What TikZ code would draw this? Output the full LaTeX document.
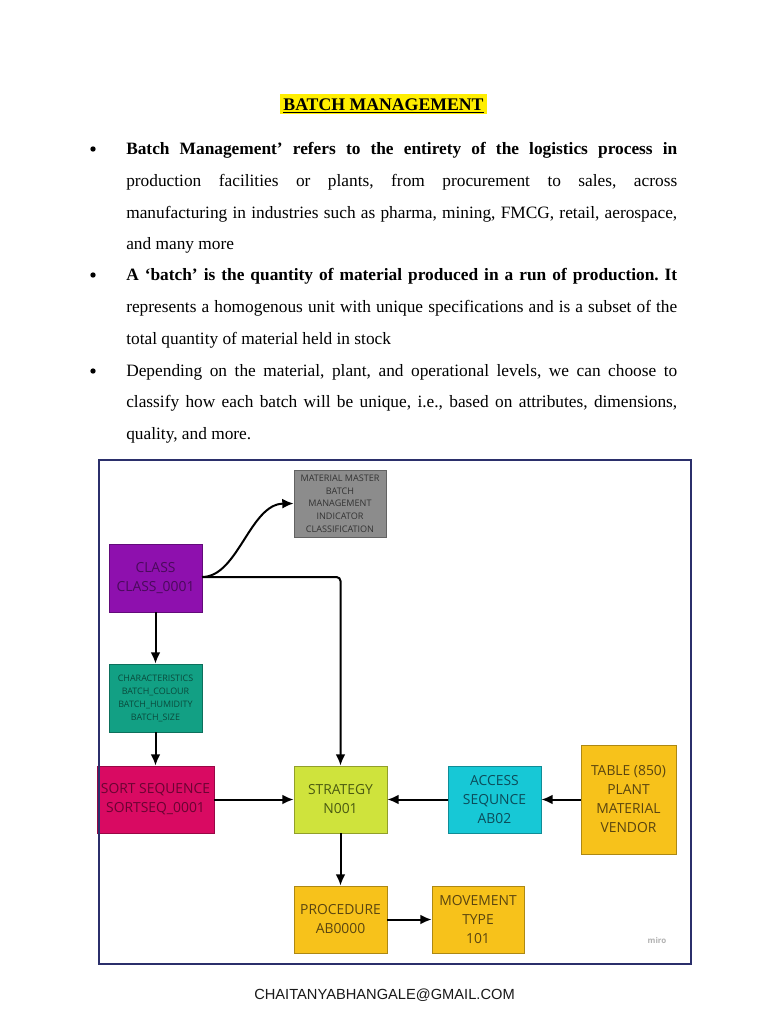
\documentclass[tikz,border=0pt]{standalone}
\usepackage{fontspec}
\setmainfont{Liberation Serif}
\newfontfamily\boxfont{Open Sans}
\newfontfamily\mailfont{Liberation Sans}
\usetikzlibrary{arrows.meta}
\frenchspacing
\definecolor{cPurple}{HTML}{8E10AE}
\definecolor{cPurpleT}{HTML}{4A0A5C}
\definecolor{cGray}{HTML}{8C8C8C}
\definecolor{cGrayT}{HTML}{333333}
\definecolor{cTeal}{HTML}{12A084}
\definecolor{cTealT}{HTML}{0A4A3C}
\definecolor{cMag}{HTML}{D90A62}
\definecolor{cMagT}{HTML}{6A0432}
\definecolor{cLime}{HTML}{CFE33C}
\definecolor{cLimeT}{HTML}{4A5A12}
\definecolor{cCyan}{HTML}{17C8D6}
\definecolor{cCyanT}{HTML}{0B4C5A}
\definecolor{cOrange}{HTML}{F7C21B}
\definecolor{cOrangeT}{HTML}{5A4510}
\definecolor{cFrame}{HTML}{2B2F6B}
\definecolor{cHigh}{HTML}{FFEE00}
\begin{document}
\begin{tikzpicture}[x=0.75pt,y=-0.75pt,
  bx/.style n args={4}{fill=#1, draw=#1!70!black, line width=0.6pt, text=#2,
     minimum width=#3*0.75pt, minimum height=#4*0.75pt, inner sep=1pt, align=center},
  bigtxt/.style={font=\boxfont\fontsize{10.4pt}{14.25pt}\selectfont},
  smalltxt/.style={font=\boxfont\fontsize{6.7pt}{9.75pt}\selectfont},
  arr/.style={-{Latex[length=8.5pt,width=7.5pt]}, line width=1.5pt, black},
  line/.style={anchor=base west, inner sep=0pt, font=\fontsize{13pt}{15pt}\selectfont},
  bul/.style={circle, fill=black, inner sep=0pt, minimum size=4pt}
]
\useasboundingbox (0,0) rectangle (768,1024);
\fill[white] (0,0) rectangle (768,1024);

% title
\fill[cHigh] (280,94) rectangle (487,114);
\node[anchor=base, inner sep=0pt, font=\bfseries\fontsize{13.3pt}{15pt}\selectfont] (title) at (383.5,110) {BATCH MANAGEMENT};
\draw[line width=1pt] (title.base west) ++(0,2.8) coordinate (u1) -- (title.base east |- u1);

% bullets
\node[bul] (b1) at (93,149) {};
\node[bul] (b2) at (93,275) {};
\node[bul] (b3) at (93,371) {};

\node[line] (l1) at (126,154) {\makebox[413.25pt][s]{\bfseries Batch Management’ refers to the entirety of the logistics process in}};
\node[line] (l2) at (126,186) {\makebox[413.25pt][s]{production facilities or plants, from procurement to sales, across}};
\node[line] (l3) at (126,218) {\makebox[413.25pt][s]{manufacturing in industries such as pharma, mining, FMCG, retail, aerospace,}};
\node[line] (l4) at (126,249) {and many more};
\node[line] (l5) at (126,280) {\makebox[413.25pt][s]{\bfseries A ‘batch’ is the quantity of material produced in a run of production. It}};
\node[line] (l6) at (126,312) {\makebox[413.25pt][s]{represents a homogenous unit with unique specifications and is a subset of the}};
\node[line] (l7) at (126,344) {total quantity of material held in stock};
\node[line] (l8) at (126,376) {\makebox[413.25pt][s]{Depending on the material, plant, and operational levels, we can choose to}};
\node[line] (l9) at (126,407) {\makebox[413.25pt][s]{classify how each batch will be unique, i.e., based on attributes, dimensions,}};
\node[line] (l10) at (126,439) {quality, and more.};

% diagram background
\fill[white] (99,460) rectangle (691,964);

% boxes
\node[bx={cGray}{cGrayT}{92}{67}, font=\boxfont\fontsize{6.8pt}{9.5pt}\selectfont] (mm) at (340,503.5)
  {MATERIAL MASTER\\BATCH\\MANAGEMENT\\INDICATOR\\CLASSIFICATION};
\node[bx={cPurple}{cPurpleT}{93}{68}, bigtxt] (class) at (155.5,578) {CLASS\\CLASS\_0001};
\node[bx={cTeal}{cTealT}{93}{68}, smalltxt] (char) at (155.5,698)
  {CHARACTERISTICS\\BATCH\_COLOUR\\BATCH\_HUMIDITY\\BATCH\_SIZE};
\node[bx={cMag}{cMagT}{117}{67}, bigtxt] (sort) at (155.5,799.5) {SORT SEQUENCE\\SORTSEQ\_0001};
\node[bx={cLime}{cLimeT}{93}{67}, bigtxt] (strat) at (340.5,799.5) {STRATEGY\\N001};
\node[bx={cCyan}{cCyanT}{93}{67}, bigtxt] (acc) at (494.5,799.5) {ACCESS\\SEQUNCE\\AB02};
\node[bx={cOrange}{cOrangeT}{95}{109}, bigtxt] (table) at (628.5,799.5) {TABLE (850)\\PLANT\\MATERIAL\\VENDOR};
\node[bx={cOrange}{cOrangeT}{93}{67}, bigtxt] (proc) at (340.5,919.5) {PROCEDURE\\AB0000};
\node[bx={cOrange}{cOrangeT}{92}{67}, bigtxt] (mov) at (478,919.5) {MOVEMENT\\TYPE\\101};

\node[text=black!30, font=\boxfont\bfseries\fontsize{6pt}{7pt}\selectfont, inner sep=0pt] (miro) at (657,940) {miro};

% connectors
\coordinate (cs) at (202,577);
\draw[arr] (cs) .. controls (238,577) and (250,504) .. (mm.west);
\draw[arr, rounded corners=3pt] (cs) -| (strat.north);
\draw[arr] (class.south) -- (char.north);
\draw[arr] (char.south) -- (sort.north);
\draw[arr] (sort.east) -- (strat.west);
\draw[arr] (acc.west) -- (strat.east);
\draw[arr] (table.west) -- (acc.east);
\draw[arr] (strat.south) -- (proc.north);
\draw[arr] (proc.east) -- (mov.west);

% frame
\draw[cFrame, line width=1.3pt] (99,460) rectangle (691,964);

% footer
\node[font=\mailfont\fontsize{11pt}{13pt}\selectfont, text=black!90, inner sep=0pt] (mail) at (384.5,995) {CHAITANYABHANGALE@GMAIL.COM};
\end{tikzpicture}
\end{document}
